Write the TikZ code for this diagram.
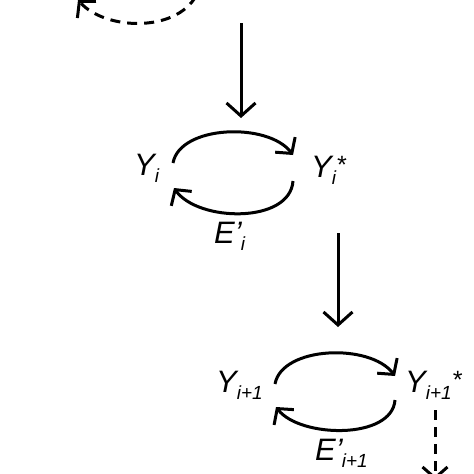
\documentclass[tikz,border=0pt]{standalone}
\usepackage{fontspec}
\setmainfont{Liberation Sans}
\usetikzlibrary{arrows.meta}
\newcommand\lbsub[1]{\raisebox{-7pt}{\fontsize{19}{19}\selectfont\itshape #1}}
\newcommand\lbsup[1]{\raisebox{4pt}{\fontsize{25}{25}\selectfont #1}}
\tikzset{
  lbl/.style={anchor=base west,inner sep=0pt,font=\fontsize{31}{31}\selectfont\itshape},
  conn/.style={line width=3pt,-{Straight Barb[length=11pt,width=25pt]}},
  vconn/.style={line width=3pt,-{Straight Barb[length=13pt,width=29pt]}},
  dconn/.style={conn,dash pattern=on 10pt off 7pt}
}
\begin{document}
\begin{tikzpicture}[x=1pt,y=-1pt]
\clip (0,0) rectangle (474,474);
\fill[white] (0,0) rectangle (474,474);
% labels
\node[lbl] (Yi)  at (134,175) {Y\lbsub{i}};
\node[lbl] (Yis) at (311,177) {Y\lbsub{i}\lbsup{*}};
\node[lbl] (Ei)  at (214,243) {E\rlap{’}\hspace{6pt}\lbsub{i}};
\node[lbl] (Yj)  at (216,392) {Y\lbsub{i+1}};
\node[lbl] (Yjs) at (405,392) {Y\lbsub{i+1}\lbsup{*}};
\node[lbl] (Ej)  at (315,460) {E\rlap{’}\hspace{6pt}\lbsub{i+1}};
% coordinates
\coordinate (t0) at (196,-4);
\coordinate (t1) at (78,0);
\coordinate (a1s) at (241,23);
\coordinate (a1e) at (241,118);
\coordinate (p1) at (173,163);
\coordinate (q1) at (293,155);
\coordinate (r1) at (293,181);
\coordinate (s1) at (174,188);
\coordinate (a2s) at (338,233);
\coordinate (a2e) at (338,327);
\coordinate (p2) at (275,384);
\coordinate (q2) at (395,376);
\coordinate (r2) at (395,400);
\coordinate (s2) at (276,407);
\coordinate (d0) at (435,410);
\coordinate (d1) at (435,480);
% connectors
\draw[dconn] (t0) .. controls (175,33) and (105,30) .. (t1);
\draw[vconn] (a1s) -- (a1e);
\draw[conn] (p1) .. controls (180,125) and (268,122) .. (q1);
\draw[conn] (r1) .. controls (290,224) and (198,222) .. (s1);
\draw[vconn] (a2s) -- (a2e);
\draw[conn] (p2) .. controls (282,346) and (370,343) .. (q2);
\draw[conn] (r2) .. controls (392,440) and (300,438) .. (s2);
\draw[dconn] (d0) -- (d1);
\end{tikzpicture}
\end{document}
